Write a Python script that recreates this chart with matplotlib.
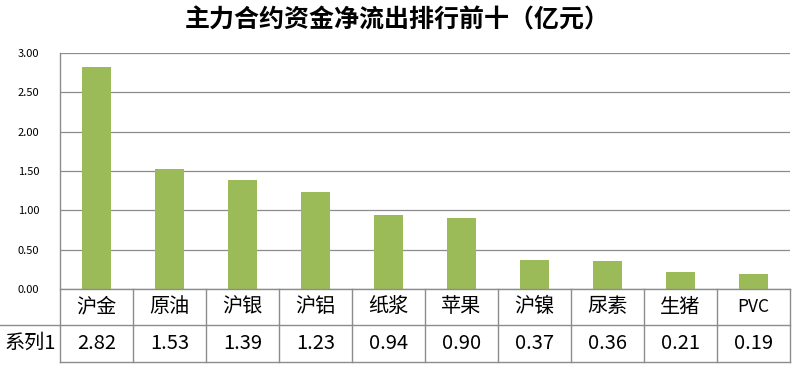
import matplotlib.pyplot as plt
from matplotlib.transforms import blended_transform_factory

plt.rcParams['font.family'] = ['Noto Sans CJK SC', 'DejaVu Sans']

TITLE = "主力合约资金净流出排行前十（亿元）"
CATEGORIES = ["沪金", "原油", "沪银", "沪铝", "纸浆", "苹果", "沪镍", "尿素", "生猪", "PVC"]
VALUES = [2.82, 1.53, 1.39, 1.23, 0.94, 0.90, 0.37, 0.36, 0.21, 0.19]
SERIES_NAME = "系列1"
Y_TICKS = [0.0, 0.5, 1.0, 1.5, 2.0, 2.5, 3.0]

BAR_COLOR = "#9BBB59"
LINE_COLOR = "#8c8c8c"

W, H = 795, 368
fig = plt.figure(figsize=(W / 100, H / 100), dpi=100)

# plot area in pixels
left, right, top, bottom = 60, 790, 53, 289
ax = fig.add_axes([left / W, 1 - bottom / H, (right - left) / W, (bottom - top) / H])

x = range(len(CATEGORIES))
ax.bar(x, VALUES, width=0.41, color=BAR_COLOR, zorder=3)
ax.set_xlim(-0.5, len(CATEGORIES) - 0.5)
ax.set_ylim(0, 3.0)
ax.set_yticks(Y_TICKS)
ax.set_yticklabels([f"{v:.2f}" for v in Y_TICKS], fontsize=8)
ax.tick_params(axis="y", length=0, pad=15)
ax.set_xticks([])
ax.grid(axis="y", color=LINE_COLOR, linewidth=0.9, zorder=0)
for side in ["top", "right", "bottom", "left"]:
    ax.spines[side].set_visible(False)

fig.text(0.5, 1 - 20 / H, TITLE, ha="center", va="center", fontsize=18, fontweight="bold")

# data table drawn below the axis
row1, row2, row3 = 289, 325, 362
fig_lines = [
    ((left, right), (row1, row1)),
    ((0, right), (row2, row2)),
    ((left, right), (row3, row3)),
    ((left, left), (top, row3)),
]
col_w = (right - left) / len(CATEGORIES)
for i in range(1, len(CATEGORIES) + 1):
    xp = left + i * col_w
    fig_lines.append(((xp, xp), (row1, row3)))
for (xs, ys) in fig_lines:
    fig.add_artist(plt.Line2D([v / W for v in xs], [1 - v / H for v in ys],
                              color=LINE_COLOR, linewidth=1.0))

trans = blended_transform_factory(ax.transData, fig.transFigure)
for i, (cat, val) in enumerate(zip(CATEGORIES, VALUES)):
    fs = 14.5 if cat != "PVC" else 12.5
    fig.text(i, 1 - (row1 + row2) / 2 / H, cat, transform=trans,
             ha="center", va="center", fontsize=fs)
    fig.text(i, 1 - (row2 + row3) / 2 / H, f"{val:.2f}", transform=trans,
             ha="center", va="center", fontsize=14.5)
fig.text(30 / W, 1 - (row2 + row3) / 2 / H, SERIES_NAME,
         ha="center", va="center", fontsize=14.5)

fig.savefig("out.png", dpi=100)
